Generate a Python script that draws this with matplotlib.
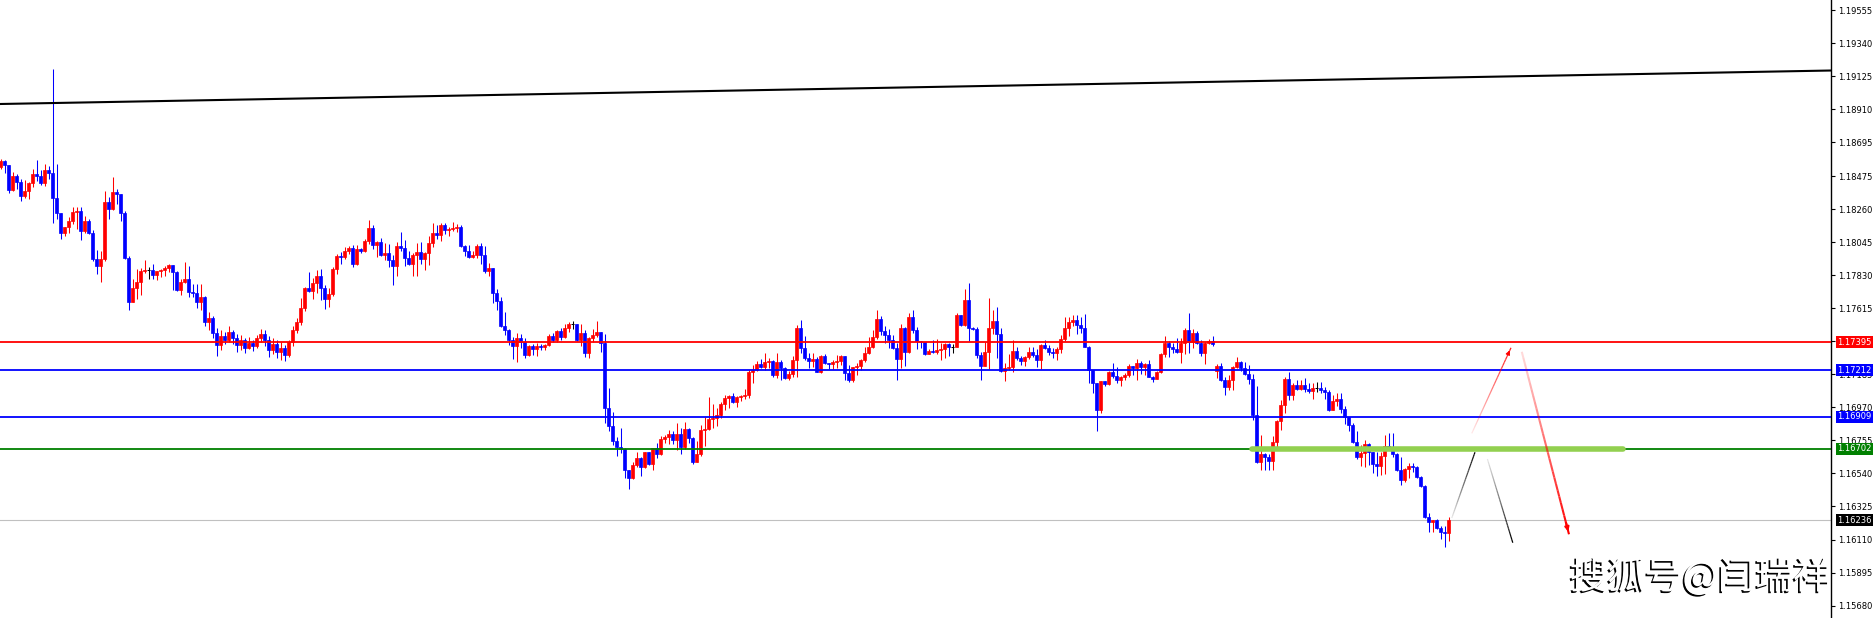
import numpy as np
import matplotlib.pyplot as plt
import matplotlib.patheffects as pe
from matplotlib.collections import LineCollection
from matplotlib.colors import to_rgba

# EURUSD H1 bars (oldest first)
opens = [
    1.18534, 1.18573, 1.18547, 1.18385, 1.18476, 1.18437, 1.18346, 1.18378, 1.18430, 1.18489,
    1.18476, 1.18430, 1.18515, 1.18495, 1.18333, 1.18235, 1.18105, 1.18144, 1.18183, 1.18242,
    1.18248, 1.18118, 1.18183, 1.18105, 1.17936, 1.17890, 1.17936, 1.18307, 1.18261, 1.18372,
    1.18359, 1.18235, 1.17943, 1.17656, 1.17747, 1.17786, 1.17857, 1.17864, 1.17864, 1.17831,
    1.17857, 1.17864, 1.17877, 1.17897, 1.17851, 1.17734, 1.17786, 1.17805, 1.17721, 1.17714,
    1.17656, 1.17688, 1.17526, 1.17552, 1.17454, 1.17377, 1.17435, 1.17409, 1.17461, 1.17422,
    1.17377, 1.17409, 1.17357, 1.17389, 1.17370, 1.17422, 1.17448, 1.17409, 1.17344, 1.17383,
    1.17331, 1.17357, 1.17311, 1.17396, 1.17474, 1.17526, 1.17617, 1.17747, 1.17727, 1.17779,
    1.17825, 1.17747, 1.17675, 1.17708, 1.17870, 1.17956, 1.17949, 1.17988, 1.18008, 1.17903,
    1.18001, 1.17988, 1.18053, 1.18138, 1.18027, 1.18047, 1.17962, 1.17975, 1.17929, 1.17890,
    1.18021, 1.18008, 1.17943, 1.17903, 1.17962, 1.17982, 1.17936, 1.17975, 1.18040, 1.18105,
    1.18092, 1.18157, 1.18125, 1.18131, 1.18138, 1.18144, 1.18021, 1.17988, 1.17949, 1.17962,
    1.18021, 1.17962, 1.17857, 1.17877, 1.17714, 1.17662, 1.17500, 1.17474, 1.17409, 1.17370,
    1.17422, 1.17396, 1.17311, 1.17370, 1.17350, 1.17370, 1.17363, 1.17377, 1.17435, 1.17409,
    1.17467, 1.17428, 1.17487, 1.17513, 1.17513, 1.17409, 1.17454, 1.17324, 1.17422, 1.17441,
    1.17461, 1.17389, 1.16966, 1.16849, 1.16751, 1.16712, 1.16699, 1.16562, 1.16510, 1.16595,
    1.16640, 1.16582, 1.16680, 1.16601, 1.16706, 1.16667, 1.16764, 1.16777, 1.16797, 1.16758,
    1.16797, 1.16712, 1.16829, 1.16771, 1.16614, 1.16667, 1.16823, 1.16829, 1.16894, 1.16901,
    1.16920, 1.16992, 1.17031, 1.17044, 1.17005, 1.17037, 1.17044, 1.17050, 1.17200, 1.17213,
    1.17252, 1.17233, 1.17265, 1.17272, 1.17181, 1.17265, 1.17226, 1.17161, 1.17187, 1.17278,
    1.17487, 1.17357, 1.17291, 1.17272, 1.17285, 1.17200, 1.17305, 1.17259, 1.17252, 1.17265,
    1.17272, 1.17305, 1.17194, 1.17148, 1.17233, 1.17239, 1.17278, 1.17324, 1.17363, 1.17428,
    1.17545, 1.17467, 1.17441, 1.17409, 1.17357, 1.17285, 1.17487, 1.17331, 1.17558, 1.17474,
    1.17402, 1.17396, 1.17318, 1.17337, 1.17331, 1.17344, 1.17350, 1.17383, 1.17363, 1.17363,
    1.17571, 1.17506, 1.17669, 1.17487, 1.17480, 1.17311, 1.17239, 1.17331, 1.17487, 1.17532,
    1.17448, 1.17207, 1.17226, 1.17233, 1.17337, 1.17291, 1.17272, 1.17298, 1.17331, 1.17311,
    1.17278, 1.17377, 1.17357, 1.17331, 1.17324, 1.17350, 1.17415, 1.17487, 1.17526, 1.17539,
    1.17506, 1.17487, 1.17363, 1.17213, 1.17128, 1.16953, 1.17142, 1.17122, 1.17200, 1.17174,
    1.17148, 1.17168, 1.17181, 1.17239, 1.17226, 1.17259, 1.17233, 1.17252, 1.17168, 1.17155,
    1.17200, 1.17318, 1.17389, 1.17363, 1.17350, 1.17331, 1.17389, 1.17474, 1.17396, 1.17454,
    1.17389, 1.17324, 1.17389, 1.17402, 1.17207, 1.17239, 1.17148, 1.17102, 1.17148, 1.17233,
    1.17265, 1.17226, 1.17187, 1.17155, 1.16920, 1.16614, 1.16667, 1.16647, 1.16621, 1.16745,
    1.16881, 1.16986, 1.17155, 1.17050, 1.17115, 1.17089, 1.17115, 1.17089, 1.17076, 1.17096,
    1.17096, 1.17083, 1.17070, 1.16953, 1.17011, 1.17024, 1.16959, 1.16907, 1.16855, 1.16745,
    1.16647, 1.16673, 1.16732, 1.16680, 1.16601, 1.16588, 1.16654, 1.16719, 1.16712, 1.16667,
    1.16562, 1.16497, 1.16569, 1.16588, 1.16582, 1.16517, 1.16458, 1.16256, 1.16224, 1.16237,
    1.16185, 1.16159, 1.16153,
]
highs = [
    1.18587, 1.18580, 1.18547, 1.18502, 1.18489, 1.18456, 1.18450, 1.18437, 1.18521, 1.18580,
    1.18515, 1.18554, 1.18541, 1.19172, 1.18554, 1.18235, 1.18144, 1.18209, 1.18274, 1.18274,
    1.18274, 1.18216, 1.18196, 1.18125, 1.17995, 1.17988, 1.18378, 1.18339, 1.18469, 1.18391,
    1.18359, 1.18248, 1.17956, 1.17805, 1.17870, 1.17877, 1.17929, 1.17883, 1.17903, 1.17857,
    1.17870, 1.17890, 1.17903, 1.17897, 1.17857, 1.17805, 1.17916, 1.17890, 1.17773, 1.17773,
    1.17773, 1.17695, 1.17591, 1.17565, 1.17487, 1.17474, 1.17461, 1.17500, 1.17474, 1.17448,
    1.17441, 1.17422, 1.17428, 1.17409, 1.17441, 1.17480, 1.17474, 1.17435, 1.17422, 1.17409,
    1.17396, 1.17377, 1.17409, 1.17500, 1.17552, 1.17682, 1.17753, 1.17851, 1.17812, 1.17864,
    1.17870, 1.17766, 1.17747, 1.17883, 1.17969, 1.17982, 1.18014, 1.18021, 1.18027, 1.18027,
    1.18008, 1.18066, 1.18190, 1.18157, 1.18053, 1.18073, 1.18040, 1.18034, 1.17962, 1.18047,
    1.18112, 1.18060, 1.17988, 1.17975, 1.18040, 1.18047, 1.17982, 1.18086, 1.18170, 1.18157,
    1.18170, 1.18170, 1.18144, 1.18177, 1.18164, 1.18157, 1.18027, 1.18027, 1.17988, 1.18034,
    1.18040, 1.18021, 1.17910, 1.17877, 1.17740, 1.17688, 1.17591, 1.17480, 1.17428, 1.17454,
    1.17448, 1.17422, 1.17377, 1.17383, 1.17389, 1.17383, 1.17383, 1.17448, 1.17454, 1.17474,
    1.17487, 1.17513, 1.17526, 1.17532, 1.17513, 1.17513, 1.17474, 1.17428, 1.17480, 1.17532,
    1.17461, 1.17448, 1.17096, 1.16940, 1.16777, 1.16836, 1.16706, 1.16562, 1.16614, 1.16680,
    1.16647, 1.16680, 1.16680, 1.16706, 1.16738, 1.16784, 1.16790, 1.16823, 1.16816, 1.16868,
    1.16836, 1.16875, 1.16836, 1.16777, 1.16751, 1.16855, 1.16907, 1.17037, 1.16992, 1.16966,
    1.17005, 1.17050, 1.17050, 1.17063, 1.17044, 1.17050, 1.17089, 1.17213, 1.17246, 1.17272,
    1.17285, 1.17324, 1.17291, 1.17278, 1.17324, 1.17278, 1.17233, 1.17207, 1.17305, 1.17506,
    1.17539, 1.17435, 1.17324, 1.17324, 1.17298, 1.17311, 1.17318, 1.17259, 1.17278, 1.17311,
    1.17311, 1.17305, 1.17246, 1.17233, 1.17259, 1.17285, 1.17363, 1.17428, 1.17474, 1.17604,
    1.17565, 1.17500, 1.17480, 1.17441, 1.17389, 1.17513, 1.17493, 1.17584, 1.17604, 1.17493,
    1.17402, 1.17396, 1.17350, 1.17409, 1.17415, 1.17389, 1.17389, 1.17389, 1.17383, 1.17584,
    1.17571, 1.17740, 1.17779, 1.17493, 1.17493, 1.17331, 1.17396, 1.17682, 1.17604, 1.17623,
    1.17487, 1.17259, 1.17318, 1.17409, 1.17363, 1.17305, 1.17305, 1.17363, 1.17363, 1.17350,
    1.17383, 1.17409, 1.17377, 1.17357, 1.17363, 1.17441, 1.17558, 1.17558, 1.17571, 1.17571,
    1.17558, 1.17578, 1.17370, 1.17213, 1.17128, 1.17142, 1.17142, 1.17207, 1.17259, 1.17233,
    1.17174, 1.17194, 1.17252, 1.17239, 1.17285, 1.17272, 1.17259, 1.17278, 1.17174, 1.17207,
    1.17324, 1.17435, 1.17402, 1.17389, 1.17422, 1.17422, 1.17487, 1.17584, 1.17480, 1.17467,
    1.17409, 1.17396, 1.17415, 1.17435, 1.17252, 1.17259, 1.17168, 1.17181, 1.17239, 1.17298,
    1.17272, 1.17265, 1.17246, 1.17187, 1.17109, 1.16790, 1.16673, 1.16667, 1.16784, 1.16888,
    1.17018, 1.17168, 1.17200, 1.17128, 1.17148, 1.17148, 1.17161, 1.17128, 1.17128, 1.17135,
    1.17135, 1.17102, 1.17083, 1.17050, 1.17063, 1.17063, 1.16979, 1.16907, 1.16868, 1.16816,
    1.16725, 1.16758, 1.16738, 1.16680, 1.16680, 1.16680, 1.16790, 1.16803, 1.16803, 1.16673,
    1.16647, 1.16575, 1.16608, 1.16608, 1.16588, 1.16523, 1.16465, 1.16283, 1.16237, 1.16244,
    1.16198, 1.16198, 1.16257,
]
lows = [
    1.18521, 1.18495, 1.18365, 1.18378, 1.18391, 1.18313, 1.18333, 1.18326, 1.18404, 1.18443,
    1.18417, 1.18411, 1.18456, 1.18170, 1.18196, 1.18066, 1.18086, 1.18105, 1.18164, 1.18131,
    1.18060, 1.18105, 1.18099, 1.17922, 1.17838, 1.17786, 1.17922, 1.18196, 1.18255, 1.18294,
    1.18183, 1.17936, 1.17604, 1.17656, 1.17675, 1.17701, 1.17844, 1.17805, 1.17805, 1.17799,
    1.17818, 1.17825, 1.17851, 1.17734, 1.17727, 1.17701, 1.17779, 1.17688, 1.17688, 1.17617,
    1.17604, 1.17500, 1.17474, 1.17422, 1.17305, 1.17344, 1.17383, 1.17396, 1.17383, 1.17331,
    1.17344, 1.17324, 1.17350, 1.17337, 1.17357, 1.17396, 1.17370, 1.17298, 1.17318, 1.17291,
    1.17278, 1.17272, 1.17298, 1.17370, 1.17454, 1.17506, 1.17598, 1.17721, 1.17675, 1.17714,
    1.17669, 1.17610, 1.17623, 1.17695, 1.17838, 1.17903, 1.17936, 1.17969, 1.17883, 1.17897,
    1.17975, 1.17982, 1.18034, 1.18001, 1.17949, 1.17956, 1.17929, 1.17883, 1.17766, 1.17825,
    1.17988, 1.17890, 1.17897, 1.17825, 1.17825, 1.17903, 1.17864, 1.17897, 1.18014, 1.18066,
    1.18053, 1.18099, 1.18086, 1.18118, 1.18112, 1.18014, 1.17956, 1.17943, 1.17943, 1.17943,
    1.17903, 1.17844, 1.17825, 1.17649, 1.17604, 1.17493, 1.17441, 1.17377, 1.17285, 1.17265,
    1.17357, 1.17291, 1.17305, 1.17311, 1.17305, 1.17344, 1.17344, 1.17370, 1.17396, 1.17396,
    1.17409, 1.17422, 1.17461, 1.17480, 1.17402, 1.17370, 1.17298, 1.17291, 1.17396, 1.17428,
    1.17331, 1.16868, 1.16816, 1.16726, 1.16654, 1.16673, 1.16510, 1.16439, 1.16504, 1.16582,
    1.16523, 1.16575, 1.16595, 1.16562, 1.16640, 1.16660, 1.16738, 1.16732, 1.16732, 1.16693,
    1.16667, 1.16699, 1.16738, 1.16601, 1.16614, 1.16654, 1.16719, 1.16823, 1.16836, 1.16849,
    1.16901, 1.16953, 1.16966, 1.16998, 1.16973, 1.17011, 1.17024, 1.17031, 1.17128, 1.17207,
    1.17226, 1.17213, 1.17226, 1.17168, 1.17161, 1.17148, 1.17155, 1.17148, 1.17168, 1.17168,
    1.17324, 1.17278, 1.17226, 1.17233, 1.17200, 1.17194, 1.17252, 1.17220, 1.17220, 1.17226,
    1.17246, 1.17148, 1.17135, 1.17135, 1.17181, 1.17213, 1.17265, 1.17318, 1.17357, 1.17415,
    1.17441, 1.17389, 1.17357, 1.17350, 1.17148, 1.17226, 1.17239, 1.17324, 1.17454, 1.17350,
    1.17357, 1.17311, 1.17318, 1.17324, 1.17318, 1.17278, 1.17291, 1.17305, 1.17324, 1.17363,
    1.17500, 1.17500, 1.17402, 1.17474, 1.17291, 1.17148, 1.17239, 1.17220, 1.17448, 1.17291,
    1.17200, 1.17142, 1.17213, 1.17200, 1.17278, 1.17246, 1.17239, 1.17285, 1.17298, 1.17233,
    1.17220, 1.17350, 1.17311, 1.17291, 1.17278, 1.17324, 1.17402, 1.17435, 1.17500, 1.17448,
    1.17454, 1.17363, 1.17128, 1.17063, 1.16816, 1.16933, 1.17109, 1.17115, 1.17161, 1.17128,
    1.17109, 1.17148, 1.17168, 1.17181, 1.17148, 1.17187, 1.17181, 1.17168, 1.17135, 1.17155,
    1.17194, 1.17298, 1.17298, 1.17324, 1.17324, 1.17259, 1.17318, 1.17324, 1.17357, 1.17383,
    1.17305, 1.17252, 1.17383, 1.17370, 1.17161, 1.17142, 1.17050, 1.17083, 1.17083, 1.17226,
    1.17207, 1.17181, 1.17122, 1.16888, 1.16608, 1.16562, 1.16562, 1.16562, 1.16562, 1.16712,
    1.16823, 1.16933, 1.17018, 1.17018, 1.17083, 1.17083, 1.17070, 1.17063, 1.17024, 1.17070,
    1.17063, 1.17024, 1.16946, 1.16953, 1.16979, 1.16933, 1.16862, 1.16816, 1.16738, 1.16634,
    1.16588, 1.16582, 1.16595, 1.16543, 1.16523, 1.16530, 1.16536, 1.16699, 1.16647, 1.16556,
    1.16465, 1.16484, 1.16510, 1.16549, 1.16510, 1.16452, 1.16250, 1.16159, 1.16159, 1.16179,
    1.16113, 1.16061, 1.16100,
]
closes = [
    1.18573, 1.18547, 1.18385, 1.18476, 1.18437, 1.18346, 1.18378, 1.18430, 1.18489, 1.18476,
    1.18430, 1.18515, 1.18495, 1.18333, 1.18235, 1.18105, 1.18144, 1.18183, 1.18242, 1.18248,
    1.18118, 1.18183, 1.18105, 1.17936, 1.17890, 1.17936, 1.18307, 1.18261, 1.18372, 1.18359,
    1.18235, 1.17943, 1.17656, 1.17747, 1.17786, 1.17857, 1.17864, 1.17864, 1.17831, 1.17857,
    1.17864, 1.17877, 1.17897, 1.17851, 1.17734, 1.17786, 1.17805, 1.17721, 1.17714, 1.17656,
    1.17688, 1.17526, 1.17552, 1.17454, 1.17377, 1.17435, 1.17409, 1.17461, 1.17422, 1.17377,
    1.17409, 1.17357, 1.17389, 1.17370, 1.17422, 1.17448, 1.17409, 1.17344, 1.17383, 1.17331,
    1.17357, 1.17311, 1.17396, 1.17474, 1.17526, 1.17617, 1.17747, 1.17727, 1.17779, 1.17825,
    1.17747, 1.17675, 1.17708, 1.17870, 1.17956, 1.17949, 1.17988, 1.18008, 1.17903, 1.18001,
    1.17988, 1.18053, 1.18138, 1.18027, 1.18047, 1.17962, 1.17975, 1.17929, 1.17890, 1.18021,
    1.18008, 1.17943, 1.17903, 1.17962, 1.17982, 1.17936, 1.17975, 1.18040, 1.18105, 1.18092,
    1.18157, 1.18125, 1.18131, 1.18138, 1.18144, 1.18021, 1.17988, 1.17949, 1.17962, 1.18021,
    1.17962, 1.17857, 1.17877, 1.17714, 1.17662, 1.17500, 1.17474, 1.17409, 1.17370, 1.17422,
    1.17396, 1.17311, 1.17370, 1.17350, 1.17370, 1.17363, 1.17377, 1.17435, 1.17409, 1.17467,
    1.17428, 1.17487, 1.17513, 1.17513, 1.17409, 1.17454, 1.17324, 1.17422, 1.17441, 1.17461,
    1.17389, 1.16966, 1.16849, 1.16751, 1.16712, 1.16699, 1.16562, 1.16510, 1.16595, 1.16640,
    1.16582, 1.16680, 1.16601, 1.16706, 1.16667, 1.16764, 1.16777, 1.16797, 1.16758, 1.16797,
    1.16712, 1.16829, 1.16771, 1.16614, 1.16667, 1.16823, 1.16829, 1.16894, 1.16901, 1.16920,
    1.16992, 1.17031, 1.17044, 1.17005, 1.17037, 1.17044, 1.17050, 1.17200, 1.17213, 1.17252,
    1.17233, 1.17265, 1.17272, 1.17181, 1.17265, 1.17226, 1.17161, 1.17187, 1.17278, 1.17487,
    1.17357, 1.17291, 1.17272, 1.17285, 1.17200, 1.17305, 1.17259, 1.17252, 1.17265, 1.17272,
    1.17305, 1.17194, 1.17148, 1.17233, 1.17239, 1.17278, 1.17324, 1.17363, 1.17428, 1.17545,
    1.17467, 1.17441, 1.17409, 1.17357, 1.17285, 1.17487, 1.17331, 1.17558, 1.17474, 1.17402,
    1.17396, 1.17318, 1.17337, 1.17331, 1.17344, 1.17350, 1.17383, 1.17363, 1.17363, 1.17571,
    1.17506, 1.17669, 1.17487, 1.17480, 1.17311, 1.17239, 1.17331, 1.17487, 1.17532, 1.17448,
    1.17207, 1.17226, 1.17233, 1.17337, 1.17291, 1.17272, 1.17298, 1.17331, 1.17311, 1.17278,
    1.17377, 1.17357, 1.17331, 1.17324, 1.17350, 1.17415, 1.17487, 1.17526, 1.17539, 1.17506,
    1.17487, 1.17363, 1.17213, 1.17128, 1.16953, 1.17142, 1.17122, 1.17200, 1.17174, 1.17148,
    1.17168, 1.17181, 1.17239, 1.17226, 1.17259, 1.17233, 1.17252, 1.17168, 1.17155, 1.17200,
    1.17318, 1.17389, 1.17363, 1.17350, 1.17331, 1.17389, 1.17474, 1.17396, 1.17454, 1.17389,
    1.17324, 1.17389, 1.17402, 1.17383, 1.17239, 1.17148, 1.17102, 1.17148, 1.17233, 1.17265,
    1.17226, 1.17187, 1.17155, 1.16920, 1.16614, 1.16667, 1.16647, 1.16621, 1.16745, 1.16881,
    1.16986, 1.17155, 1.17050, 1.17115, 1.17089, 1.17115, 1.17089, 1.17076, 1.17096, 1.17096,
    1.17083, 1.17070, 1.16953, 1.17011, 1.17024, 1.16959, 1.16907, 1.16855, 1.16745, 1.16647,
    1.16673, 1.16732, 1.16680, 1.16601, 1.16588, 1.16654, 1.16719, 1.16712, 1.16667, 1.16562,
    1.16497, 1.16569, 1.16588, 1.16582, 1.16517, 1.16458, 1.16256, 1.16224, 1.16237, 1.16185,
    1.16159, 1.16153, 1.16236,
]

# horizontal levels drawn on the chart
levels = [1.17395, 1.17212, 1.16909, 1.16702]
level_colors = ['#ff0000', '#0000ff', '#0000ff', '#008000']
last_price = 1.16236

# price scale
tick_values = [1.19555, 1.19340, 1.19125, 1.18910, 1.18695, 1.18475, 1.18260, 1.18045,
               1.17830, 1.17615, 1.17400, 1.17185, 1.16970, 1.16755, 1.16540, 1.16325,
               1.16110, 1.15895, 1.15680]

# long black trend line (bar index, price)
trend_x = [-0.125, 457.6]
trend_y = [1.18945, 1.19163]

# light green support zone
zone_x = [312.8, 405.7]
zone_price = 1.16700

# projected paths (bar index, price)
proj_start = [(362.8, 1.16250), (367.8, 1.16801), (371.7, 1.16634), (380.3, 1.17332)]
proj_end = [(368.6, 1.16678), (377.6, 1.17358), (378.05, 1.16089), (392.1, 1.16144)]


fig = plt.figure(figsize=(18.76, 6.18), dpi=100)
ax = fig.add_axes([0, 0, 1831 / 1876, 1])

o = np.array(opens)
c = np.array(closes)
h = np.maximum.reduce([np.array(highs), o, c])
l = np.minimum.reduce([np.array(lows), o, c])
x = np.arange(len(c))

col = np.where(c > o, '#ff0000', np.where(c < o, '#0000ff', '#000000'))
ax.vlines(x, l, h, colors=col, linewidth=0.75, zorder=2)
body = c != o
ax.bar(x[body], np.abs(c - o)[body], bottom=np.minimum(o, c)[body], width=0.6,
       color=col[body], edgecolor=col[body], linewidth=0.5, zorder=2)
ax.hlines(c[~body], x[~body] - 0.4, x[~body] + 0.4, colors='black', linewidth=0.75, zorder=2)

ax.plot(trend_x, trend_y, color='black', lw=1.5, zorder=3)
ax.axhline(last_price, color='#c0c0c0', lw=0.8, zorder=1)
for lvl, lc in zip(levels, level_colors):
    ax.axhline(lvl, color=lc, lw=1.3, zorder=3)

ax.plot(zone_x, [zone_price, zone_price], color='#92d050', lw=4, solid_capstyle='round', zorder=4)


def fade_line(p0, p1, color, lw, a0, a1):
    t = np.linspace(0, 1, 30)
    px = p0[0] + (p1[0] - p0[0]) * t
    py = p0[1] + (p1[1] - p0[1]) * t
    pts = np.column_stack([px, py])
    segs = np.stack([pts[:-1], pts[1:]], axis=1)
    rgba = np.tile(to_rgba(color), (len(segs), 1))
    rgba[:, 3] = np.linspace(a0, a1, len(segs))
    ax.add_collection(LineCollection(segs, colors=rgba, linewidths=lw, zorder=4))


proj_styles = [('black', 0.9, 0.1, 1.0, False),
               ('#ff0000', 0.9, 0.1, 0.9, True),
               ('black', 0.9, 0.1, 1.0, False),
               ('#ff0000', 1.5, 0.15, 1.0, True)]
for p0, p1, (pc, lw, a0, a1, head) in zip(proj_start, proj_end, proj_styles):
    fade_line(p0, p1, pc, lw, a0, a1)
    if head:
        back = (p1[0] - (p1[0] - p0[0]) * 0.08, p1[1] - (p1[1] - p0[1]) * 0.08)
        ax.annotate('', xy=p1, xytext=back,
                    arrowprops=dict(arrowstyle='-|>', color=pc, lw=lw, mutation_scale=6))

ax.set_xlim(-0.125, 457.6)
ax.set_ylim(1.15599, 1.19622)
ax.set_xticks([])
ax.yaxis.tick_right()
ax.set_yticks(tick_values)
ax.set_yticklabels([f'{v:.5f}' for v in tick_values])
ax.tick_params(axis='y', direction='out', length=3, width=0.8, labelsize=6, pad=2)
for s in ['top', 'left', 'bottom']:
    ax.spines[s].set_visible(False)
ax.spines['right'].set_linewidth(1)

# price tags on the scale
trans = ax.get_yaxis_transform()
for v, tc in zip(levels + [last_price], level_colors + ['#000000']):
    ax.text(1.0035, v, f'{v:.5f}', transform=trans, fontsize=6, color='white',
            va='center', ha='left', clip_on=False, zorder=6,
            bbox=dict(boxstyle='square,pad=0.18', fc=tc, ec='none'))

fig.text(0.9062, 0.0647, '搜狐号@闫瑞祥', fontsize=27, color='white',
         family=['Noto Sans CJK SC', 'DejaVu Sans'], ha='center', va='center',
         path_effects=[pe.withSimplePatchShadow(offset=(-1.2, -1.2), shadow_rgbFace='black', alpha=1.0)])

fig.savefig('out.png', dpi=100)
